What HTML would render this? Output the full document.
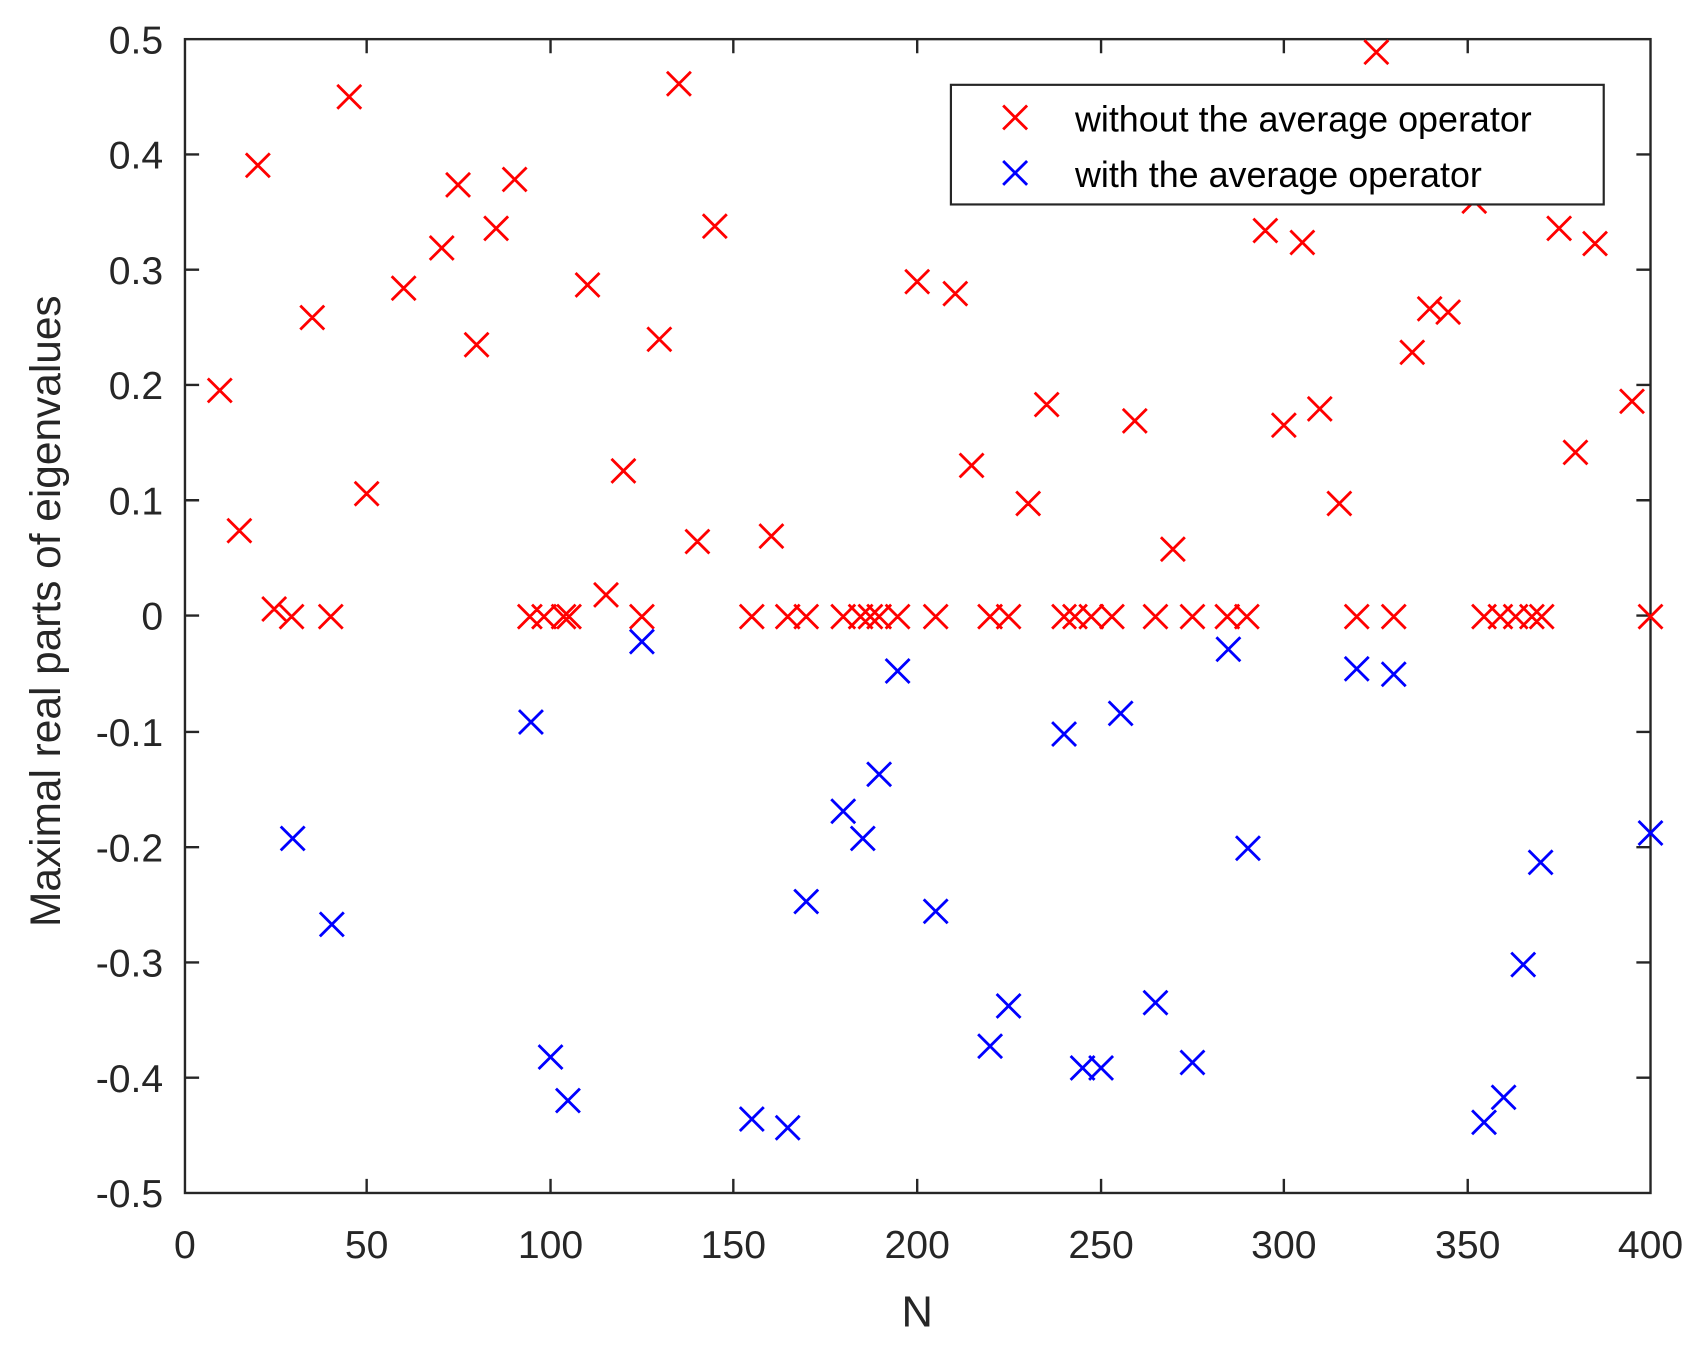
<!DOCTYPE html>
<html><head><style>html,body{margin:0;padding:0;background:#fff}svg{display:block}</style></head><body>
<svg width="1706" height="1361" viewBox="0 0 1568 1251.5" preserveAspectRatio="none" xmlns="http://www.w3.org/2000/svg" font-family="Liberation Sans, sans-serif">
<rect width="1568" height="1252" fill="#fff"/>
<g stroke="#262626" stroke-width="2.2" fill="none">
<rect x="170" y="36" width="1347" height="1061"/>
<path d="M337,1097v-13M506,1097v-13M674,1097v-13M843,1097v-13M1012,1097v-13M1180,1097v-13M1349,1097v-13
M337,36v13M506,36v13M674,36v13M843,36v13M1012,36v13M1180,36v13M1349,36v13
M170,142h13M170,248h13M170,354h13M170,460h13M170,566h13M170,673h13M170,779h13M170,885h13M170,991h13
M1517,142h-13M1517,248h-13M1517,354h-13M1517,460h-13M1517,566h-13M1517,673h-13M1517,779h-13M1517,885h-13M1517,991h-13"/>
</g>
<g fill="#262626" font-size="36" text-anchor="end">
<text x="150" y="49">0.5</text><text x="150" y="155">0.4</text><text x="150" y="261">0.3</text><text x="150" y="367">0.2</text><text x="150" y="473">0.1</text><text x="150" y="579">0</text><text x="150" y="686">-0.1</text><text x="150" y="792">-0.2</text><text x="150" y="898">-0.3</text><text x="150" y="1004">-0.4</text><text x="150" y="1110">-0.5</text>
</g>
<g fill="#262626" font-size="36" text-anchor="middle">
<text x="170" y="1157">0</text><text x="337" y="1157">50</text><text x="506" y="1157">100</text><text x="674" y="1157">150</text><text x="843" y="1157">200</text><text x="1012" y="1157">250</text><text x="1180" y="1157">300</text><text x="1349" y="1157">350</text><text x="1517" y="1157">400</text>
<text x="843" y="1220" font-size="40">N</text>
<text transform="translate(55,562) rotate(-90)" font-size="39">Maximal real parts of eigenvalues</text>
</g>
<g id="red" stroke="#ff0000" stroke-width="2.6" fill="none"></g>
<g id="blue" stroke="#0000ff" stroke-width="2.6" fill="none"></g>
<rect x="874" y="78" width="600" height="110" fill="#fff" stroke="#262626" stroke-width="2"/>
<path d="M922,97l22,22M944,97l-22,22" stroke="#ff0000" stroke-width="2.6"/>
<path d="M922,148l22,22M944,148l-22,22" stroke="#0000ff" stroke-width="2.6"/>
<g font-size="33" fill="#000"><text x="988" y="121">without the average operator</text><text x="988" y="172">with the average operator</text></g>
<script>
var R=[[202,359],[220,488],[237,152],[252,560],[268,567],[304,567],[287,292],[321,89],[337,454],[371,265],[406,228],[421,170],[438,317],[456,210],[473,165],[487,567],[500,567],[518,567],[523,567],[540,262],[557,547],[573,433],[590,567],[606,312],[624,77],[641,498],[657,208],[691,567],[709,493],[724,567],[741,567],[775,567],[791,567],[800,567],[808,567],[825,567],[843,259],[860,567],[878,270],[893,428],[910,567],[927,567],[945,463],[962,372],[978,567],[988,567],[1003,567],[1022,567],[1043,387],[1062,567],[1078,505],[1096,567],[1128,567],[1146,567],[1163,212],[1180,391],[1197,223],[1213,376],[1231,463],[1247,567],[1265,48],[1281,567],[1298,324],[1314,284],[1331,287],[1355,185],[1364,567],[1379,567],[1393,567],[1408,567],[1417,567],[1433,210],[1448,416],[1466,224],[1500,369],[1517,567]];
var B=[[269,771],[305,850],[488,664],[506,972],[522,1012],[590,590],[691,1029],[724,1037],[741,829],[775,746],[793,771],[808,712],[825,617],[860,838],[910,962],[927,925],[978,675],[995,982],[1012,982],[1030,656],[1062,922],[1096,977],[1129,597],[1147,780],[1247,615],[1281,620],[1364,1032],[1382,1009],[1400,887],[1416,793],[1517,766]];
function draw(id,a){var d='';a.forEach(function(p){d+='M'+(p[0]-11)+','+(p[1]-11)+'l22,22M'+(p[0]+11)+','+(p[1]-11)+'l-22,22'});var e=document.createElementNS('http://www.w3.org/2000/svg','path');e.setAttribute('d',d);document.getElementById(id).appendChild(e);}
draw('red',R);draw('blue',B);
</script>
</svg>
</body></html>
